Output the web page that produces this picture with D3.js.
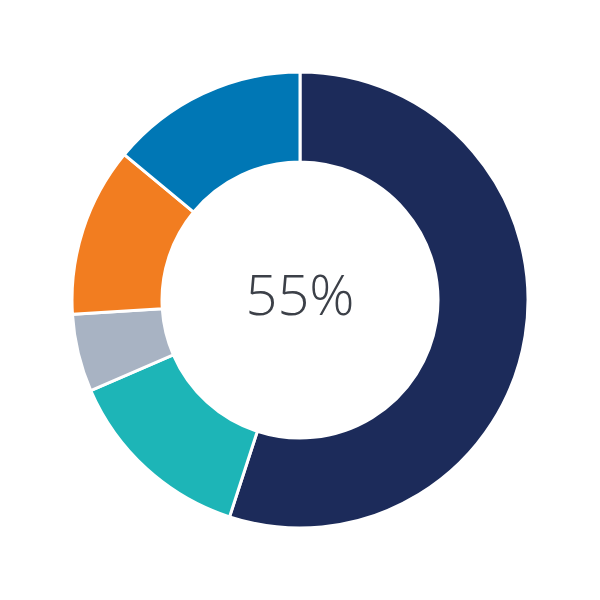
<!DOCTYPE html>
<html>
<head>
<meta charset="utf-8">
<script src="https://cdn.jsdelivr.net/npm/d3@7"></script>
<style>
html,body{margin:0;padding:0;background:#fff;}
</style>
</head>
<body>
<svg id="chart" width="600" height="600"></svg>
<script>
const categories = ["A", "B", "C", "D", "E"];
const values = [55, 13.5, 5.5, 12, 14];
const colors = ["#1c2b5a", "#1db5b7", "#a8b3c3", "#f27d20", "#0077b5"];
const centerLabel = "55%";

const svg = d3.select("#chart");
const g = svg.append("g").attr("transform", "translate(300,300)");

const pie = d3.pie().sort(null).value(d => d.value);
const arc = d3.arc().innerRadius(138).outerRadius(228);
const data = categories.map((c, i) => ({ cat: c, value: values[i] }));
const color = d3.scaleOrdinal().domain(categories).range(colors);

g.selectAll("path")
  .data(pie(data))
  .join("path")
  .attr("d", arc)
  .attr("fill", d => color(d.data.cat))
  .attr("stroke", "#fff")
  .attr("stroke-width", 3);

g.append("text")
  .attr("x", 0)
  .attr("y", 15)
  .attr("text-anchor", "middle")
  .attr("font-family", "'Open Sans', sans-serif")
  .attr("font-weight", 300)
  .attr("font-size", 56)
  .attr("fill", "#3c4048")
  .text(centerLabel);
</script>
</body>
</html>
